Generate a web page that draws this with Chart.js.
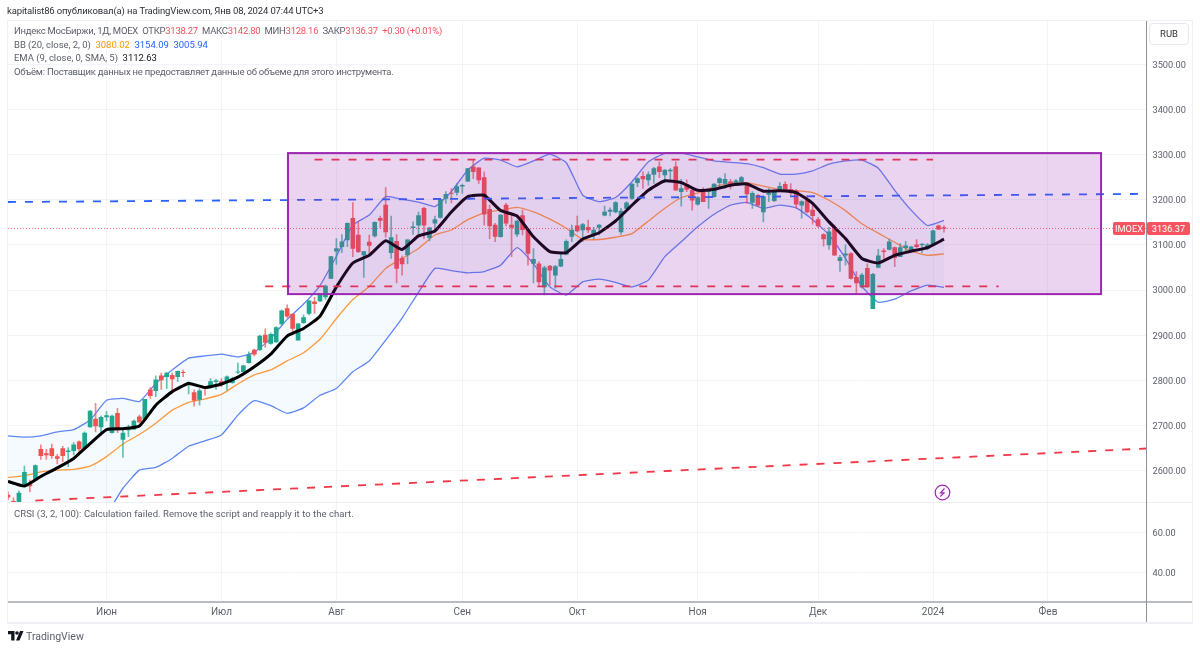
<!DOCTYPE html>
<html lang="ru">
<head>
<meta charset="utf-8">
<title>Индекс МосБиржи</title>
<script src="https://cdn.jsdelivr.net/npm/chart.js@4"></script>
<style>
  body { margin: 0; background: #fff; }
  #page { position: relative; width: 1200px; height: 650px; overflow: hidden; font-family: Roboto, sans-serif; font-size: 9.5px; color: #5d606b; }
  canvas { position: absolute; left: 0; top: 0; }
  .txt { position: absolute; white-space: pre; line-height: 14px; }
  .frame { position: absolute; background: #eef0f5; }
  .red { color: #f7525f; } .orange { color: #ff9800; } .blue { color: #2962ff; } .black { color: #131722; }
  .tag { position: absolute; background: #f7525f; color: #fff; border-radius: 2px; text-align: center; line-height: 13px; height: 13px; top: 222px; font-size: 9.2px; }
</style>
</head>
<body>
<div id="page">
  <canvas id="myChart" width="1200" height="650"></canvas>

  <div class="frame" style="left:7px;top:20px;width:1186px;height:1px"></div>
  <div class="frame" style="left:7px;top:622px;width:1186px;height:2px"></div>
  <div class="frame" style="left:7px;top:20px;width:1px;height:603px"></div>
  <div class="frame" style="left:1192px;top:20px;width:1px;height:603px"></div>
  <div class="frame" style="left:8px;top:501.5px;width:1184px;height:1.5px"></div>
  <div class="frame" style="left:8px;top:601px;width:1184px;height:1.5px;background:#b8bbc3"></div>
  <div class="frame" style="left:1146px;top:21px;width:1px;height:601px;background:#8f929c"></div>

  <div class="txt" style="left:7px;top:4px;color:#2e3038;letter-spacing:-0.14px">kapitalist86 опубликовал(а) на TradingView.com, Янв 08, 2024 07:44 UTC+3</div>
  <div class="txt" style="left:14px;top:24px;letter-spacing:-0.27px">Индекс МосБиржи, 1Д, MOEX  ОТКР<span class="red">3138.27</span>  МАКС<span class="red">3142.80</span>  МИН<span class="red">3128.16</span>  ЗАКР<span class="red">3136.37</span>  <span class="red">+0.30 (+0.01%)</span></div>
  <div class="txt" style="left:14px;top:38px;letter-spacing:-0.03px">BB (20, close, 2, 0)  <span class="orange">3080.02</span>  <span class="blue">3154.09</span>  <span class="blue">3005.94</span></div>
  <div class="txt" style="left:14px;top:51px;letter-spacing:-0.03px">EMA (9, close, 0, SMA, 5)  <span class="black">3112.63</span></div>
  <div class="txt" style="left:14px;top:64.5px;letter-spacing:-0.22px">Объём: Поставщик данных не предоставляет данные об объеме для этого инструмента.</div>
  <div class="txt" style="left:14px;top:507px;letter-spacing:0.05px">CRSI (3, 2, 100): Calculation failed. Remove the script and reapply it to the chart.</div>

  <div class="txt" style="left:1149px;top:23px;width:38px;height:20px;line-height:20px;text-align:center;border:1px solid #e6e8ee;border-radius:4px;color:#2e3038">RUB</div>
  <div class="tag" style="left:1113px;width:32px">IMOEX</div>
  <div class="tag" style="left:1147px;width:43px">3136.37</div>

  <svg style="position:absolute;left:934px;top:484px" width="17" height="17" viewBox="0 0 17 17">
    <circle cx="8.5" cy="8.5" r="7.3" fill="none" stroke="#9c27b0" stroke-width="1.2"/>
    <path d="M10.5 4.5 L6.5 8.8 H10 L6.3 12.5" fill="none" stroke="#9c27b0" stroke-width="1.2"/>
  </svg>
  <svg style="position:absolute;left:8px;top:631px" width="16" height="10" viewBox="0 0 16 10">
    <path d="M0 0 H6.5 V9.5 H3.2 V3.2 H0 Z M15.5 0 L11.5 9.5 H8 L12 0 Z" fill="#131722"/>
    <circle cx="9" cy="2" r="1.8" fill="#131722"/>
  </svg>
  <div class="txt" style="left:26px;top:630px;font-size:10.5px">TradingView</div>
</div>

<script>
// Bougies journalières
const opens = [
  2546,2532,2531,2570,2572,2581,2647,2638,2649,2631,
  2649,2642,2644,2664,2649,2697,2714,2697,2719,2684,
  2727,2669,2690,2692,2719,2714,2779,2777,2810,2808,
  2811,2808,2818,2792,2773,2758,2784,2787,2797,2797,
  2795,2795,2818,2819,2839,2867,2868,2900,2882,2885,
  2925,2959,2947,2889,2928,2948,2974,2976,2985,3026,
  3086,3096,3111,3159,3122,3078,3106,3120,3159,3188,
  3083,3108,3070,3078,3138,3144,3181,3116,3148,3161,
  3203,3215,3216,3230,3241,3273,3271,3249,3179,3144,
  3118,3188,3144,3124,3165,3134,3059,3058,3007,3053,
  3033,3053,3079,3119,3142,3133,3139,3125,3139,3166,
  3174,3173,3129,3181,3203,3238,3252,3244,3256,3273,
  3255,3264,3273,3218,3234,3221,3190,3218,3218,3207,
  3238,3236,3240,3235,3240,3236,3194,3210,3173,3212,
  3198,3220,3234,3223,3220,3188,3198,3177,3156,3123,
  3100,3139,3065,3077,3081,3028,3007,3048,2959,3050,
  3087,3090,3094,3074,3094,3089,3100,3100,3092,3100,
  3142,3138.27
];
const highs = [
  2553,2540,2555,2610,2579,2613,2657,2647,2659,2636,
  2654,2651,2662,2666,2686,2733,2749,2721,2731,2723,
  2738,2690,2701,2712,2723,2758,2784,2810,2816,2817,
  2816,2821,2823,2797,2779,2782,2787,2804,2802,2804,
  2810,2807,2838,2834,2863,2869,2900,2914,2905,2919,
  2956,2967,2947,2926,2945,2976,2984,2993,3011,3074,
  3114,3123,3149,3194,3151,3086,3122,3151,3164,3227,
  3164,3123,3075,3112,3151,3173,3184,3139,3164,3201,
  3218,3225,3236,3235,3269,3288,3271,3262,3188,3148,
  3167,3192,3168,3155,3177,3136,3092,3063,3053,3055,
  3055,3081,3111,3144,3164,3148,3155,3139,3145,3186,
  3182,3196,3181,3196,3236,3249,3262,3262,3272,3284,
  3267,3269,3284,3245,3244,3223,3207,3227,3221,3236,
  3249,3258,3245,3245,3252,3238,3218,3212,3208,3225,
  3221,3238,3240,3236,3223,3198,3210,3188,3161,3125,
  3139,3144,3077,3100,3083,3041,3037,3058,3037,3090,
  3092,3113,3096,3103,3108,3097,3112,3103,3103,3133,
  3144,3142.80
];
const lows = [
  2535,2522,2530,2568,2553,2579,2625,2625,2627,2615,
  2620,2609,2635,2635,2646,2696,2686,2679,2710,2683,
  2684,2629,2675,2691,2705,2712,2760,2764,2780,2782,
  2778,2797,2808,2770,2743,2745,2767,2782,2780,2786,
  2778,2793,2815,2817,2838,2854,2866,2873,2880,2884,
  2922,2939,2905,2889,2926,2945,2948,2974,2979,3025,
  3057,3083,3096,3074,3083,3028,3081,3117,3139,3117,
  3070,3016,3033,3058,3123,3123,3114,3109,3128,3159,
  3192,3193,3210,3214,3240,3247,3236,3144,3114,3107,
  3117,3142,3074,3118,3122,3055,3016,3011,2989,3011,
  3004,3052,3078,3107,3129,3107,3127,3114,3122,3164,
  3164,3171,3123,3177,3201,3229,3225,3232,3236,3249,
  3238,3245,3221,3186,3218,3177,3188,3196,3181,3205,
  3229,3225,3224,3232,3236,3192,3181,3185,3151,3196,
  3196,3218,3218,3210,3181,3159,3171,3146,3139,3097,
  3090,3077,3041,3055,3024,2993,3004,3007,2959,3049,
  3070,3089,3052,3074,3087,3085,3094,3083,3089,3099,
  3134,3128.16
];
const closes = [
  2541,2528,2550,2596,2566,2611,2633,2635,2633,2627,
  2633,2644,2657,2648,2683,2732,2699,2718,2722,2721,
  2690,2683,2691,2710,2708,2758,2766,2801,2801,2816,
  2803,2820,2817,2795,2756,2777,2782,2797,2799,2795,
  2808,2804,2819,2832,2856,2858,2898,2884,2902,2917,
  2954,2942,2915,2925,2939,2976,2970,2991,3009,3074,
  3092,3107,3148,3092,3085,3085,3099,3150,3154,3129,
  3116,3048,3058,3111,3140,3165,3144,3138,3156,3201,
  3212,3214,3229,3232,3269,3262,3244,3168,3142,3119,
  3166,3148,3139,3153,3134,3081,3068,3018,3049,3044,
  3052,3068,3108,3133,3131,3145,3133,3133,3144,3173,
  3177,3194,3175,3193,3235,3247,3246,3256,3269,3262,
  3266,3266,3221,3225,3223,3199,3205,3196,3220,3235,
  3247,3245,3236,3242,3249,3213,3214,3188,3207,3214,
  3218,3230,3221,3218,3190,3196,3173,3165,3142,3113,
  3129,3077,3072,3080,3026,3016,3033,3007,3035,3076,
  3085,3107,3072,3094,3098,3096,3096,3102,3100,3131,
  3135,3136.37
];

// Indicateurs, lus toutes les 3 bougies
const lineStep = 3;
const emaLine = [2576,2566,2587,2606,2627,2660,2691,2693,2699,2745,2775,2793,2784,2792,2807,2830,2858,2898,2915,2942,
  3007,3060,3077,3109,3090,3120,3131,3173,3207,3210,3176,3164,3118,3085,3083,3113,3127,3153,3188,3221,
  3242,3238,3221,3223,3232,3235,3219,3220,3216,3192,3151,3114,3070,3060,3077,3086,3094,3112.63];
const bbBasis = [2585,2589,2597,2601,2603,2610,2631,2659,2680,2705,2734,2751,2759,2769,2792,2812,2823,2843,2861,2891,
  2937,2979,3008,3048,3070,3092,3122,3133,3156,3171,3177,3183,3173,3157,3137,3112,3112,3117,3125,3153,
  3181,3205,3215,3229,3237,3238,3230,3223,3220,3216,3199,3176,3147,3126,3106,3086,3077,3080.02];
const bbUpper = [2677,2674,2677,2686,2691,2712,2756,2760,2753,2793,2823,2849,2854,2858,2852,2862,2893,2935,2969,3010,
  3075,3144,3166,3207,3201,3195,3185,3218,3266,3292,3288,3273,3286,3301,3282,3210,3196,3205,3240,3284,
  3303,3304,3295,3286,3283,3280,3271,3257,3257,3264,3279,3286,3288,3270,3221,3177,3143,3154.09];
const bbLower = [2493,2504,2517,2516,2515,2508,2506,2561,2601,2607,2627,2654,2666,2679,2723,2755,2744,2727,2739,2767,
  2782,2819,2843,2889,2938,2995,3048,3043,3038,3041,3055,3094,3058,3007,2989,3018,3024,3017,3007,3022,
  3074,3107,3140,3168,3188,3194,3181,3188,3182,3156,3122,3070,3008,2973,2980,2998,3011,3005.94];

// Axes
const barCount = 209; // avec l'espace vide à droite
const monthBars = [18, 39, 60, 83, 104, 126, 148, 169, 190];
const monthLabels = ['Июн', 'Июл', 'Авг', 'Сен', 'Окт', 'Ноя', 'Дек', '2024', 'Фев'];
const priceTicks = [3500, 3400, 3300, 3200, 3100, 3000, 2900, 2800, 2700, 2600];
const oscTicks = [60, 40];

// Dessins: [barre, prix]
const redTopLine = [[56, 3289], [169, 3289]];
const redBottomLine = [[47, 3008], [181, 3008]];
const blueLine = [[0, 3195], [208, 3213]];
const redTrendLine = [[5, 2533.6], [208, 2649]];
const lastPriceLine = [[0, 3136.37], [208, 3136.37]];
const boxBars = [51.15, 199.7];
const boxPrices = [3303.4, 2991];

const UP = '#22a68f';
const DOWN = '#f0524f';

const barLabels = [];
for (let i = 0; i < barCount; i++) barLabels.push(i);

const sampled = values => values.map((v, k) => ({ x: k * lineStep, y: v }));
const segment = points => points.map(p => ({ x: p[0], y: p[1] }));
const candleColors = closes.map((c, i) => (c >= opens[i] ? UP : DOWN));
const wickColors = candleColors.map(c => c + 'b0');

function indicator(data, color, width, order, extra) {
    return Object.assign({
        type: 'line', data: data, borderColor: color, borderWidth: width, order: order,
        pointRadius: 0, tension: 0.15, fill: false, yAxisID: 'y'
    }, extra || {});
}
function drawing(points, color, dash, width) {
    return {
        type: 'line', data: segment(points), borderColor: color, borderWidth: width, borderDash: dash,
        pointRadius: 0, tension: 0, fill: false, order: 0, yAxisID: 'y'
    };
}

// Rectangle violet, posé par-dessus les bougies
const boxPlugin = {
    id: 'box',
    afterDatasetsDraw(chart) {
        const { ctx, scales } = chart;
        const x1 = scales.x.getPixelForValue(boxBars[0]);
        const x2 = scales.x.getPixelForValue(boxBars[1]);
        const y1 = scales.y.getPixelForValue(boxPrices[0]);
        const y2 = scales.y.getPixelForValue(boxPrices[1]);
        ctx.save();
        ctx.fillStyle = 'rgba(156, 39, 176, 0.2)';
        ctx.fillRect(x1, y1, x2 - x1, y2 - y1);
        ctx.strokeStyle = '#9c27b0';
        ctx.lineWidth = 2;
        ctx.strokeRect(x1, y1, x2 - x1, y2 - y1);
        ctx.restore();
    }
};

const tickFont = { family: 'Roboto, sans-serif', size: 9.2 };
const gridColor = '#f2f4f9';

document.addEventListener('DOMContentLoaded', function() {
    const ctx = document.getElementById('myChart').getContext('2d');
    new Chart(ctx, {
        type: 'bar',
        data: {
            labels: barLabels,
            datasets: [
                indicator(sampled(bbUpper), '#5f86f5', 1.3, 6, {
                    fill: { target: 1 }, backgroundColor: 'rgba(33, 150, 243, 0.05)'
                }),
                indicator(sampled(bbLower), '#5f86f5', 1.3, 6),
                indicator(sampled(bbBasis), '#ff9a3c', 1.3, 5),
                {
                    data: lows.map((l, i) => [l, highs[i]]),
                    backgroundColor: wickColors, barThickness: 1, order: 3, grouped: false, yAxisID: 'y'
                },
                {
                    data: opens.map((o, i) => [o, closes[i]]),
                    backgroundColor: candleColors, barThickness: 4, order: 2, grouped: false, yAxisID: 'y'
                },
                indicator(sampled(emaLine), '#000000', 3, 1),
                drawing(lastPriceLine, 'rgba(242, 54, 69, 0.7)', [1, 2], 1),
                drawing(redTopLine, '#f23645', [8, 9], 1.8),
                drawing(redBottomLine, '#f23645', [8, 9], 1.8),
                drawing(blueLine, '#2962ff', [8, 9], 1.8),
                drawing(redTrendLine, '#f23645', [8, 9], 1.8)
            ]
        },
        options: {
            responsive: false,
            animation: false,
            events: [],
            layout: { padding: { left: 8, top: 21, right: 8, bottom: 27 } },
            plugins: { legend: { display: false }, tooltip: { enabled: false } },
            scales: {
                x: {
                    offset: false,
                    grid: { color: gridColor, offset: false, drawTicks: false },
                    border: { display: false },
                    afterBuildTicks(scale) { scale.ticks = monthBars.map(v => ({ value: v })); },
                    afterFit(scale) { scale.height = 21; },
                    ticks: {
                        autoSkip: false, maxRotation: 0, color: '#5d606b', font: { family: 'Roboto, sans-serif', size: 10 }, padding: 4,
                        callback: (value, index) => monthLabels[index]
                    }
                },
                y: {
                    position: 'right', stack: 'panes', stackWeight: 481, min: 2530.5, max: 3596,
                    grid: { color: gridColor, drawTicks: false },
                    border: { display: false },
                    afterBuildTicks(scale) { scale.ticks = priceTicks.map(v => ({ value: v })); },
                    afterFit(scale) { scale.width = 45.5; },
                    ticks: { color: '#5d606b', font: tickFont, padding: 6, labelOffset: 1, callback: v => v.toFixed(2) }
                },
                y2: {
                    position: 'right', stack: 'panes', stackWeight: 100, min: 25.25, max: 75.5,
                    grid: { color: gridColor, drawTicks: false },
                    border: { display: false },
                    afterBuildTicks(scale) { scale.ticks = oscTicks.map(v => ({ value: v })); },
                    afterFit(scale) { scale.width = 45.5; },
                    ticks: { color: '#5d606b', font: tickFont, padding: 6, labelOffset: 1, callback: v => v.toFixed(2) }
                }
            }
        },
        plugins: [boxPlugin]
    });
});
</script>
</body>
</html>
